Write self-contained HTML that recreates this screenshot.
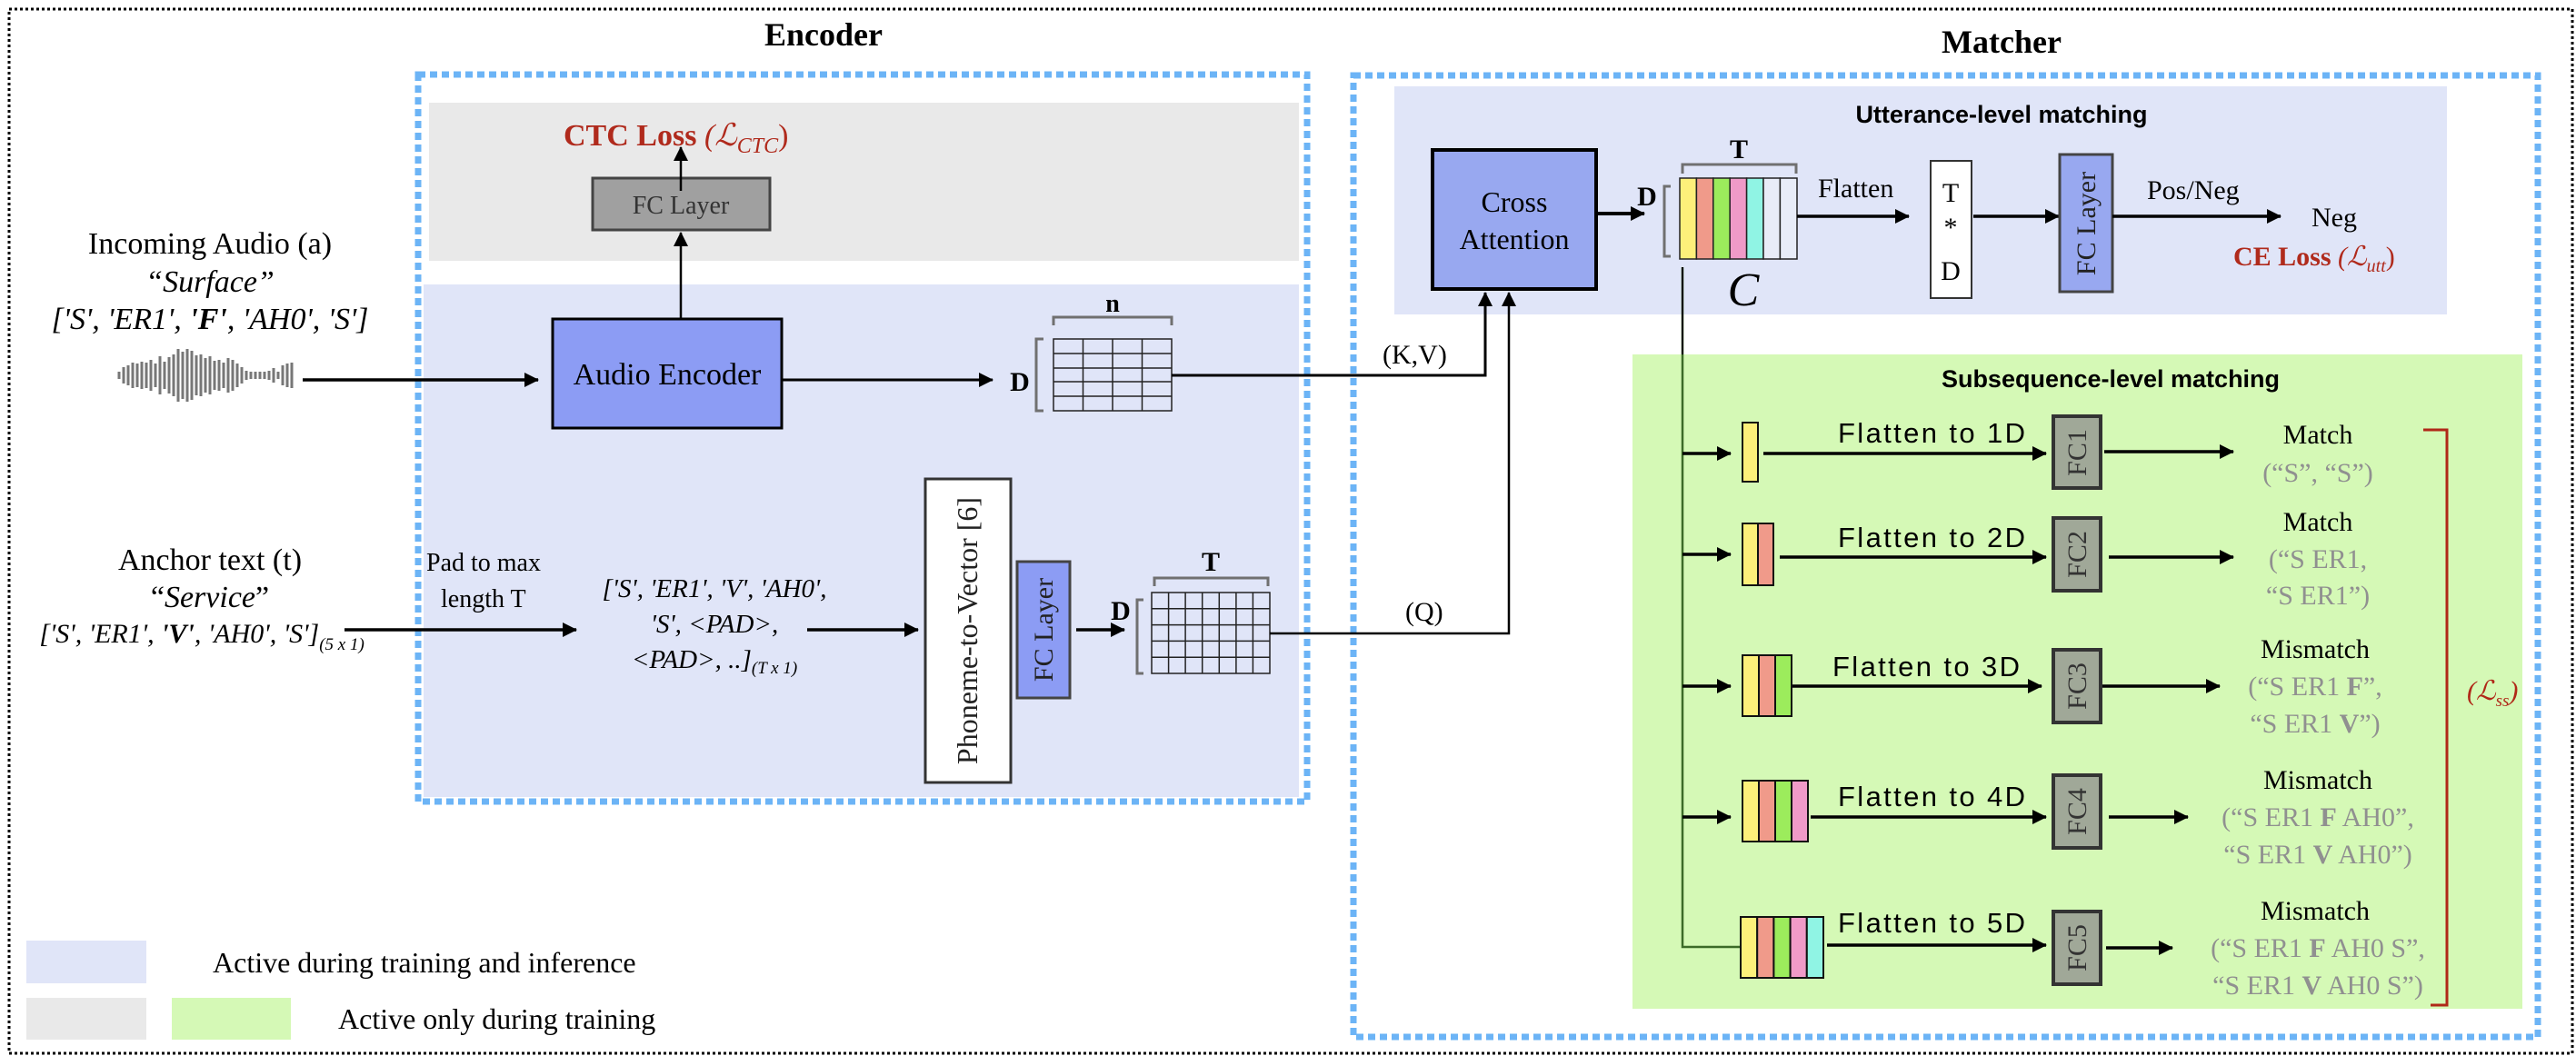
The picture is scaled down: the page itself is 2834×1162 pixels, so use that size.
<!DOCTYPE html>
<html><head><meta charset="utf-8"><style>
html,body{margin:0;padding:0;background:#fff;}
svg{display:block;}
text{font-family:"Liberation Serif",serif;}
.sans{font-family:"Liberation Sans",sans-serif;}
</style></head><body>
<svg width="2834" height="1162" viewBox="0 0 2834 1162" xmlns="http://www.w3.org/2000/svg">
<defs>
<marker id="ah" markerWidth="8" markerHeight="8" refX="7" refY="4" orient="auto" markerUnits="userSpaceOnUse" viewBox="0 0 8 8">
<path d="M0,0 L8,4 L0,8 z" fill="#000"/></marker>
<marker id="ahb" markerWidth="16" markerHeight="16" refX="15" refY="8" orient="auto" markerUnits="userSpaceOnUse" viewBox="0 0 16 16">
<path d="M0,0 L16,8 L0,16 z" fill="#000"/></marker>
</defs>
<!-- outer dotted border -->
<rect x="10" y="10" width="2820" height="1149" fill="none" stroke="#000" stroke-width="3" stroke-dasharray="3 3"/>

<!-- Encoder -->
<text x="906" y="50" font-size="36" font-weight="bold" text-anchor="middle">Encoder</text>
<rect x="472" y="113" width="957" height="174" fill="#e9e9e9"/>
<rect x="466" y="313" width="963" height="564" fill="#e0e5f8"/>
<rect x="460" y="82" width="978" height="800" fill="none" stroke="#6cb4f6" stroke-width="7" stroke-dasharray="8 5"/>

<text x="620" y="160" font-size="34" font-weight="bold" fill="#b02a1c">CTC  Loss <tspan font-weight="normal" font-style="italic">(ℒ</tspan><tspan font-weight="normal" font-style="italic" font-size="24" dy="8">CTC</tspan><tspan font-weight="normal" dy="-8">)</tspan></text>
<rect x="652" y="196" width="195" height="57" fill="#a0a0a0" stroke="#444" stroke-width="3"/>
<text x="749" y="235" font-size="28" text-anchor="middle" fill="#333">FC Layer</text>
<line x1="749" y1="351" x2="749" y2="256" stroke="#000" stroke-width="2.5" marker-end="url(#ahb)"/>
<line x1="749" y1="210" x2="749" y2="162" stroke="#000" stroke-width="2.5" marker-end="url(#ahb)"/>

<rect x="608" y="351" width="252" height="120" fill="#8c9cf4" stroke="#000" stroke-width="3"/>
<text x="734" y="423" font-size="34" text-anchor="middle">Audio Encoder</text>

<text x="231" y="279" font-size="34" text-anchor="middle">Incoming Audio (a)</text>
<text x="231" y="321" font-size="34" text-anchor="middle" font-style="italic">“Surface”</text>
<text x="231" y="362" font-size="34" text-anchor="middle" font-style="italic">['S', 'ER1', <tspan font-weight="bold">'F'</tspan>, 'AH0', 'S']</text>
<g id="wave" stroke="#777" stroke-width="3">
<line x1="131" y1="409" x2="131" y2="417"/><line x1="136" y1="404" x2="136" y2="422"/><line x1="141" y1="402" x2="141" y2="424"/><line x1="146" y1="399" x2="146" y2="427"/><line x1="151" y1="400" x2="151" y2="426"/><line x1="156" y1="398" x2="156" y2="428"/><line x1="161" y1="399" x2="161" y2="427"/><line x1="166" y1="396" x2="166" y2="430"/><line x1="171" y1="400" x2="171" y2="426"/><line x1="176" y1="392" x2="176" y2="434"/><line x1="181" y1="398" x2="181" y2="428"/><line x1="186" y1="393" x2="186" y2="433"/><line x1="191" y1="390" x2="191" y2="436"/><line x1="196" y1="384" x2="196" y2="442"/><line x1="201" y1="387" x2="201" y2="439"/><line x1="206" y1="384" x2="206" y2="442"/><line x1="211" y1="386" x2="211" y2="440"/><line x1="216" y1="391" x2="216" y2="435"/><line x1="221" y1="390" x2="221" y2="436"/><line x1="226" y1="394" x2="226" y2="432"/><line x1="231" y1="392" x2="231" y2="434"/><line x1="236" y1="397" x2="236" y2="429"/><line x1="241" y1="396" x2="241" y2="430"/><line x1="246" y1="399" x2="246" y2="427"/><line x1="251" y1="394" x2="251" y2="432"/><line x1="256" y1="396" x2="256" y2="430"/><line x1="261" y1="400" x2="261" y2="426"/><line x1="266" y1="404" x2="266" y2="422"/><line x1="271" y1="408" x2="271" y2="418"/><line x1="276" y1="409" x2="276" y2="417"/><line x1="281" y1="409" x2="281" y2="417"/><line x1="286" y1="409" x2="286" y2="417"/><line x1="291" y1="409" x2="291" y2="417"/><line x1="296" y1="408" x2="296" y2="418"/><line x1="301" y1="405" x2="301" y2="421"/><line x1="306" y1="409" x2="306" y2="417"/><line x1="311" y1="402" x2="311" y2="424"/><line x1="316" y1="400" x2="316" y2="426"/><line x1="321" y1="399" x2="321" y2="427"/>
</g>
<line x1="333" y1="418" x2="592" y2="418" stroke="#000" stroke-width="3.5" marker-end="url(#ahb)"/>
<line x1="860" y1="418" x2="1092" y2="418" stroke="#000" stroke-width="3" marker-end="url(#ahb)"/>

<!-- matrix n -->
<text x="1122" y="430" font-size="30" font-weight="bold" text-anchor="middle">D</text>
<path d="M1148,373 H1140 V452 H1148" fill="none" stroke="#707070" stroke-width="3"/>
<path d="M1159,358 V349 H1289 V358" fill="none" stroke="#707070" stroke-width="3"/>
<text x="1224" y="343" font-size="28" font-weight="bold" text-anchor="middle">n</text>
<g stroke="#222" stroke-width="1.5" fill="none">
<rect x="1159" y="373" width="130" height="79"/>
<line x1="1191.5" y1="373" x2="1191.5" y2="452"/><line x1="1224" y1="373" x2="1224" y2="452"/><line x1="1256.5" y1="373" x2="1256.5" y2="452"/>
<line x1="1159" y1="389" x2="1289" y2="389"/><line x1="1159" y1="405" x2="1289" y2="405"/><line x1="1159" y1="420" x2="1289" y2="420"/><line x1="1159" y1="436" x2="1289" y2="436"/>
</g>

<!-- anchor text -->
<text x="231" y="627" font-size="34" text-anchor="middle">Anchor text (t)</text>
<text x="231" y="668" font-size="34" text-anchor="middle">“<tspan font-style="italic">Service</tspan>”</text>
<text x="222" y="707" font-size="30" text-anchor="middle" font-style="italic">['S', 'ER1', <tspan font-weight="bold">'V'</tspan>, 'AH0', 'S']<tspan font-size="19" dy="8">(5 x 1)</tspan></text>
<line x1="379" y1="693" x2="634" y2="693" stroke="#000" stroke-width="3.5" marker-end="url(#ahb)"/>
<text x="469" y="628" font-size="28">Pad to max</text>
<text x="485" y="668" font-size="28">length T</text>
<text x="786" y="657" font-size="29" text-anchor="middle" font-style="italic">['S', 'ER1', 'V', 'AH0',</text>
<text x="786" y="696" font-size="29" text-anchor="middle" font-style="italic">'S', &lt;PAD&gt;,</text>
<text x="786" y="735" font-size="29" text-anchor="middle" font-style="italic">&lt;PAD&gt;, ..]<tspan font-size="19" dy="6">(T x 1)</tspan></text>
<line x1="888" y1="693" x2="1010" y2="693" stroke="#000" stroke-width="3.5" marker-end="url(#ahb)"/>

<rect x="1018" y="527" width="94" height="334" fill="#fff" stroke="#333" stroke-width="3"/>
<text transform="translate(1075,694) rotate(-90)" font-size="32" text-anchor="middle" fill="#222">Phoneme-to-Vector [6]</text>
<rect x="1119" y="618" width="58" height="150" fill="#8c9cf4" stroke="#444" stroke-width="3"/>
<text transform="translate(1158,693) rotate(-90)" font-size="30" text-anchor="middle" fill="#222">FC Layer</text>
<line x1="1184" y1="693" x2="1237" y2="693" stroke="#000" stroke-width="3.5" marker-end="url(#ahb)"/>

<text x="1233" y="682" font-size="30" font-weight="bold" text-anchor="middle">D</text>
<path d="M1258,660 H1251 V741 H1258" fill="none" stroke="#707070" stroke-width="3"/>
<path d="M1270,645 V636 H1395 V645" fill="none" stroke="#707070" stroke-width="3"/>
<text x="1332" y="628" font-size="30" font-weight="bold" text-anchor="middle">T</text>
<g stroke="#222" stroke-width="1.5" fill="none">
<rect x="1267" y="652" width="130" height="89"/>
<line x1="1285.6" y1="652" x2="1285.6" y2="741"/><line x1="1304.1" y1="652" x2="1304.1" y2="741"/><line x1="1322.7" y1="652" x2="1322.7" y2="741"/><line x1="1341.3" y1="652" x2="1341.3" y2="741"/><line x1="1359.9" y1="652" x2="1359.9" y2="741"/><line x1="1378.4" y1="652" x2="1378.4" y2="741"/>
<line x1="1267" y1="669.8" x2="1397" y2="669.8"/><line x1="1267" y1="687.6" x2="1397" y2="687.6"/><line x1="1267" y1="705.4" x2="1397" y2="705.4"/><line x1="1267" y1="723.2" x2="1397" y2="723.2"/>
</g>

<!-- Matcher -->
<text x="2202" y="58" font-size="36" font-weight="bold" text-anchor="middle">Matcher</text>
<rect x="1534" y="95" width="1158" height="251" fill="#e0e5f8"/>
<rect x="1796" y="390" width="979" height="720" fill="#d5f9b6"/>
<rect x="1489" y="83" width="1303" height="1058" fill="none" stroke="#6cb4f6" stroke-width="7" stroke-dasharray="8 5"/>
<text class="sans" x="2202" y="135" font-size="27" font-weight="bold" text-anchor="middle">Utterance-level matching</text>

<rect x="1576" y="165" width="180" height="153" fill="#98a8f0" stroke="#000" stroke-width="4"/>
<text x="1666" y="233" font-size="32" text-anchor="middle">Cross</text>
<text x="1666" y="274" font-size="32" text-anchor="middle">Attention</text>
<line x1="1756" y1="235" x2="1809" y2="235" stroke="#000" stroke-width="4" marker-end="url(#ahb)"/>
<text x="1812" y="226" font-size="30" font-weight="bold" text-anchor="middle">D</text>
<path d="M1838,205 H1831 V282 H1838" fill="none" stroke="#707070" stroke-width="3"/>
<path d="M1851,191 V181 H1976 V191" fill="none" stroke="#707070" stroke-width="3"/>
<text x="1913" y="174" font-size="30" font-weight="bold" text-anchor="middle">T</text>
<g stroke="#222" stroke-width="1.5">
<rect x="1848" y="196" width="18.4" height="89" fill="#fdf07a"/>
<rect x="1866.4" y="196" width="18.4" height="89" fill="#f09a8a"/>
<rect x="1884.8" y="196" width="18.4" height="89" fill="#9cec5c"/>
<rect x="1903.2" y="196" width="18.4" height="89" fill="#f09ac8"/>
<rect x="1921.6" y="196" width="18.4" height="89" fill="#90f4e4"/>
<rect x="1940" y="196" width="18.4" height="89" fill="#e8ecf8"/>
<rect x="1958.4" y="196" width="18.6" height="89" fill="#e8ecf8"/>
</g>
<text x="1918" y="336" font-size="52" font-style="italic" text-anchor="middle">C</text>
<text x="2000" y="217" font-size="30">Flatten</text>
<line x1="1977" y1="238" x2="2100" y2="238" stroke="#000" stroke-width="3.5" marker-end="url(#ahb)"/>
<rect x="2124" y="177" width="45" height="151" fill="#fff" stroke="#333" stroke-width="2"/>
<text x="2146" y="222" font-size="30" text-anchor="middle">T</text>
<text x="2146" y="260" font-size="30" text-anchor="middle">*</text>
<text x="2146" y="308" font-size="30" text-anchor="middle">D</text>
<line x1="2171" y1="238" x2="2265" y2="238" stroke="#000" stroke-width="3.5" marker-end="url(#ahb)"/>
<rect x="2266" y="170" width="58" height="151" fill="#98a8f0" stroke="#444" stroke-width="3"/>
<text transform="translate(2305,246) rotate(-90)" font-size="30" text-anchor="middle" fill="#222">FC Layer</text>
<line x1="2324" y1="238" x2="2509" y2="238" stroke="#000" stroke-width="3.5" marker-end="url(#ahb)"/>
<text x="2362" y="219" font-size="30">Pos/Neg</text>
<text x="2543" y="249" font-size="30">Neg</text>
<text x="2457" y="292" font-size="30" font-weight="bold" fill="#b02a1c">CE Loss <tspan font-weight="normal" font-style="italic">(ℒ</tspan><tspan font-weight="normal" font-style="italic" font-size="20" dy="7">utt</tspan><tspan font-weight="normal" dy="-7">)</tspan></text>

<!-- K,V and Q lines -->
<polyline points="1289,413 1634,413 1634,322" fill="none" stroke="#000" stroke-width="3" marker-end="url(#ahb)"/>
<polyline points="1397,697 1660,697 1660,322" fill="none" stroke="#000" stroke-width="2.5" marker-end="url(#ahb)"/>
<text x="1521" y="400" font-size="30">(K,V)</text>
<text x="1546" y="683" font-size="30">(Q)</text>

<!-- Subsequence -->
<text class="sans" x="2322" y="426" font-size="27" font-weight="bold" text-anchor="middle">Subsequence-level matching</text>
<polyline points="1851,294 1851,1042 1915,1042" fill="none" stroke="#3c6b28" stroke-width="2.5"/>
<line x1="1851" y1="294" x2="1851" y2="390" stroke="#000" stroke-width="2"/>

<g stroke="#000" stroke-width="3.5">
<line x1="1851" y1="499" x2="1904" y2="499" marker-end="url(#ahb)"/>
<line x1="1851" y1="610" x2="1904" y2="610" marker-end="url(#ahb)"/>
<line x1="1851" y1="755" x2="1904" y2="755" marker-end="url(#ahb)"/>
<line x1="1851" y1="899" x2="1904" y2="899" marker-end="url(#ahb)"/>
<line x1="1940" y1="499" x2="2251" y2="499" marker-end="url(#ahb)"/>
<line x1="1958" y1="613" x2="2251" y2="613" marker-end="url(#ahb)"/>
<line x1="1971" y1="755" x2="2246" y2="755" marker-end="url(#ahb)"/>
<line x1="1992" y1="899" x2="2251" y2="899" marker-end="url(#ahb)"/>
<line x1="2010" y1="1040" x2="2251" y2="1040" marker-end="url(#ahb)"/>
<line x1="2315" y1="497" x2="2457" y2="497" marker-end="url(#ahb)"/>
<line x1="2320" y1="613" x2="2457" y2="613" marker-end="url(#ahb)"/>
<line x1="2311" y1="755" x2="2442" y2="755" marker-end="url(#ahb)"/>
<line x1="2320" y1="899" x2="2407" y2="899" marker-end="url(#ahb)"/>
<line x1="2317" y1="1043" x2="2390" y2="1043" marker-end="url(#ahb)"/>
</g>

<g stroke="#111" stroke-width="2">
<rect x="1917" y="465" width="17" height="65" fill="#fdf07a"/>
<rect x="1917" y="576" width="17" height="68" fill="#fdf07a"/><rect x="1934" y="576" width="17" height="68" fill="#f09a8a"/>
<rect x="1917" y="721" width="18" height="67" fill="#fdf07a"/><rect x="1935" y="721" width="18" height="67" fill="#f09a8a"/><rect x="1953" y="721" width="18" height="67" fill="#9cec5c"/>
<rect x="1917" y="859" width="18" height="67" fill="#fdf07a"/><rect x="1935" y="859" width="18" height="67" fill="#f09a8a"/><rect x="1953" y="859" width="18" height="67" fill="#9cec5c"/><rect x="1971" y="859" width="18" height="67" fill="#f09ac8"/>
<rect x="1915" y="1009" width="18.2" height="67" fill="#fdf07a"/><rect x="1933.2" y="1009" width="18.2" height="67" fill="#f09a8a"/><rect x="1951.4" y="1009" width="18.2" height="67" fill="#9cec5c"/><rect x="1969.6" y="1009" width="18.2" height="67" fill="#f09ac8"/><rect x="1987.8" y="1009" width="18.2" height="67" fill="#90f4e4"/>
</g>

<g class="sans" font-size="31">
<text class="sans" x="2022" y="487" textLength="206">Flatten to 1D</text>
<text class="sans" x="2022" y="602" textLength="206">Flatten to 2D</text>
<text class="sans" x="2016" y="744" textLength="206">Flatten to 3D</text>
<text class="sans" x="2022" y="887" textLength="206">Flatten to 4D</text>
<text class="sans" x="2022" y="1026" textLength="206">Flatten to 5D</text>
</g>

<g fill="#a0a898" stroke="#333" stroke-width="4">
<rect x="2259" y="458" width="52" height="79"/>
<rect x="2259" y="570" width="52" height="80"/>
<rect x="2259" y="715" width="52" height="80"/>
<rect x="2259" y="853" width="52" height="80"/>
<rect x="2259" y="1003" width="52" height="80"/>
</g>
<g font-size="30" fill="#333" text-anchor="middle">
<text transform="translate(2295,498) rotate(-90)">FC1</text>
<text transform="translate(2295,610) rotate(-90)">FC2</text>
<text transform="translate(2295,755) rotate(-90)">FC3</text>
<text transform="translate(2295,893) rotate(-90)">FC4</text>
<text transform="translate(2295,1043) rotate(-90)">FC5</text>
</g>

<g font-size="30" text-anchor="middle">
<text x="2550" y="488">Match</text>
<text x="2550" y="530" fill="#909090">(“S”, “S”)</text>
<text x="2550" y="584">Match</text>
<text x="2550" y="625" fill="#909090">(“S ER1,</text>
<text x="2550" y="665" fill="#909090">“S ER1”)</text>
<text x="2547" y="724">Mismatch</text>
<text x="2547" y="765" fill="#909090">(“S ER1 <tspan font-weight="bold">F</tspan>”,</text>
<text x="2547" y="806" fill="#909090">“S ER1 <tspan font-weight="bold">V</tspan>”)</text>
<text x="2550" y="868">Mismatch</text>
<text x="2550" y="909" fill="#909090">(“S ER1 <tspan font-weight="bold">F</tspan> AH0”,</text>
<text x="2550" y="950" fill="#909090">“S ER1 <tspan font-weight="bold">V</tspan> AH0”)</text>
<text x="2547" y="1012">Mismatch</text>
<text x="2550" y="1053" fill="#909090">(“S ER1 <tspan font-weight="bold">F</tspan> AH0 S”,</text>
<text x="2550" y="1094" fill="#909090">“S ER1 <tspan font-weight="bold">V</tspan> AH0 S”)</text>
</g>

<path d="M2666,473 H2692 V1106 H2674" fill="none" stroke="#b02818" stroke-width="3"/>
<text x="2714" y="770" font-size="30" fill="#b02818" font-style="italic">(ℒ<tspan font-size="19" dy="7">ss</tspan><tspan dy="-7">)</tspan></text>

<!-- legend -->
<rect x="29" y="1035" width="132" height="47" fill="#e0e5f8"/>
<rect x="29" y="1098" width="132" height="46" fill="#e9e9e9"/>
<rect x="189" y="1098" width="131" height="46" fill="#d5f9b6"/>
<text x="234" y="1070" font-size="32">Active during training and inference</text>
<text x="372" y="1132" font-size="32">Active only during training</text>
</svg>
</body></html>
